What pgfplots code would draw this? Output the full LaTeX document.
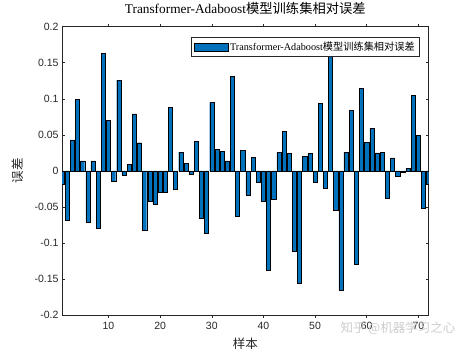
\documentclass[border=0pt]{standalone}
\usepackage{pgfplots}
\pgfplotsset{compat=1.18}
\usepackage{fontspec}
\setmainfont{Liberation Serif}
\newfontfamily\cjk{Noto Sans CJK SC}
\newfontfamily\tickfont{Liberation Sans}
\definecolor{mblue}{RGB}{0,114,189}
\definecolor{axgray}{RGB}{38,38,38}
\pgfplotsset{mybarlegend/.style={legend image code/.code={\draw[##1] (0pt,-4pt) rectangle (34pt,4pt);}}}
\begin{document}
\begin{tikzpicture}
\path[use as bounding box] (0,0) rectangle (474pt,355pt);
\begin{axis}[
  at={(62pt,40pt)}, anchor=south west,
  scale only axis, width=366.7pt, height=288.3pt,
  xmin=1, xmax=72, ymin=-0.2, ymax=0.2,
  xtick={10,20,30,40,50,60,70},
  ytick={-0.2,-0.15,-0.1,-0.05,0,0.05,0.1,0.15,0.2},
  yticklabels={-0.2,-0.15,-0.1,-0.05,0,0.05,0.1,0.15,0.2},
  xticklabels={10,20,30,40,50,60,70},
  tick align=inside, major tick length=3pt,
  axis line style={axgray, line width=0.5pt},
  every tick/.style={axgray, line width=0.5pt},
  ticklabel style={font=\tickfont\fontsize{10.5}{12}\selectfont, text=axgray},
  xticklabel style={yshift=-1pt},
  title={Transformer-Adaboost{\cjk 模型训练集相对误差}},
  title style={at={(axis description cs:0.5,1.044)}, anchor=center, font=\fontsize{13.3}{15}\selectfont, text=black},
  xlabel={\cjk 样本},
  xlabel style={at={(axis description cs:0.5,-0.1)}, anchor=center, font=\fontsize{12.5}{14}\selectfont, text=axgray},
  ylabel={\cjk 误差},
  ylabel style={at={(axis description cs:-0.12,0.5)}, anchor=center, font=\fontsize{12.5}{14}\selectfont, text=axgray},
  ybar, bar width=0.8,
  legend style={at={(0.9736,0.963)}, anchor=north east, draw=axgray, line width=0.5pt,
    font=\fontsize{10.2}{12}\selectfont, inner xsep=2pt, inner ysep=2.5pt, row sep=0pt},
  legend cell align=left,
  clip=true,
]
\addplot[fill=mblue, draw=black, line width=0.4pt, bar shift=0pt, mybarlegend]
  coordinates {
(1,-0.019) (2,-0.069) (3,0.043) (4,0.099) (5,0.014) (6,-0.071) (7,0.014) (8,-0.080)
(9,0.163) (10,0.070) (11,-0.014) (12,0.126) (13,-0.006) (14,0.009) (15,0.079) (16,0.039)
(17,-0.082) (18,-0.042) (19,-0.046) (20,-0.030) (21,-0.030) (22,0.088) (23,-0.026) (24,0.026)
(25,0.010) (26,-0.005) (27,0.041) (28,-0.066) (29,-0.086) (30,0.095) (31,0.030) (32,0.027)
(33,0.014) (34,0.131) (35,-0.063) (36,0.028) (37,-0.034) (38,0.019) (39,-0.016) (40,-0.042)
(41,-0.138) (42,-0.040) (43,0.026) (44,0.055) (45,0.024) (46,-0.112) (47,-0.156) (48,0.020)
(49,0.024) (50,-0.016) (51,0.094) (52,-0.024) (53,0.163) (54,-0.055) (55,-0.165) (56,0.026)
(57,0.084) (58,-0.130) (59,0.114) (60,0.040) (61,0.059) (62,0.025) (63,0.026) (64,-0.038)
(65,0.018) (66,-0.008) (67,-0.002) (68,0.003) (69,0.105) (70,0.049) (71,-0.052) (72,-0.018)
  };
\addlegendentry{Transformer-Adaboost{\cjk 模型训练集相对误差}}
\end{axis}
\node[text=black!20, font=\cjk\fontsize{12.5}{14}\selectfont, anchor=center] at (398pt,27pt) {知乎 @机器学习之心};
\end{tikzpicture}
\end{document}
